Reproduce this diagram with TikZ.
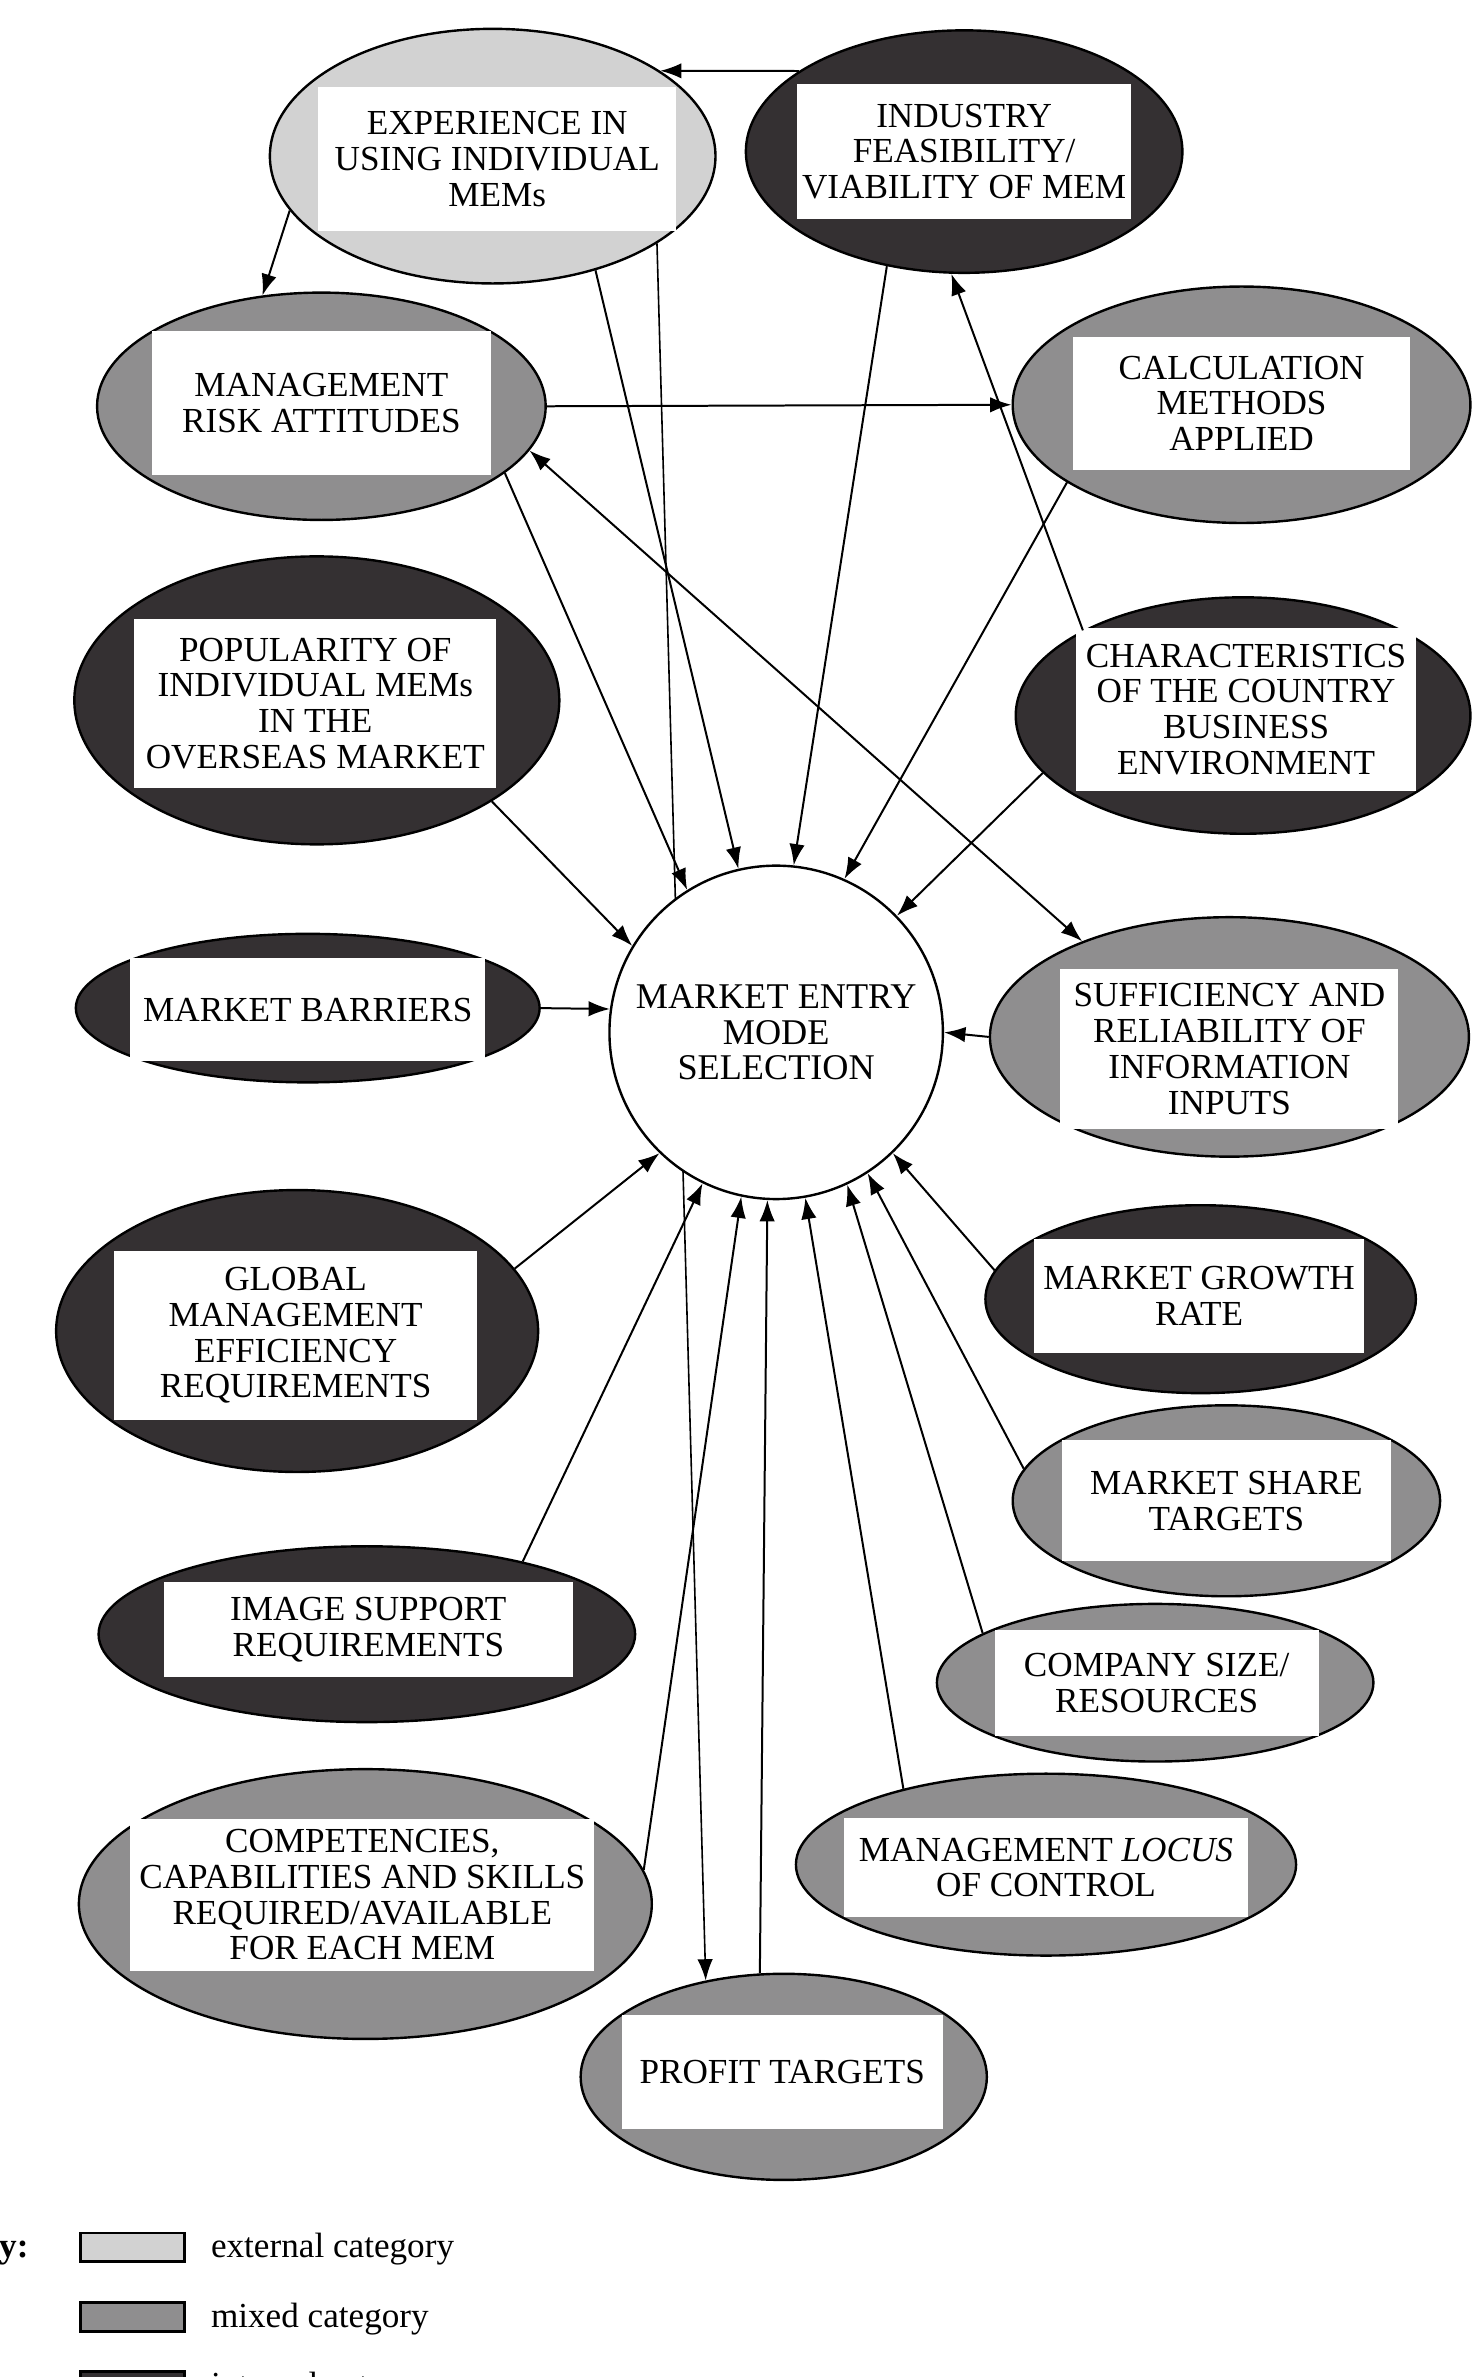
\documentclass[tikz,border=0pt]{standalone}
\usepackage{fontspec}
\setmainfont{Liberation Serif}
\usetikzlibrary{shapes.geometric, arrows.meta}
\definecolor{extgray}{RGB}{210,210,210}
\definecolor{mixgray}{RGB}{143,142,143}
\definecolor{intgray}{RGB}{52,48,50}
\newcommand{\boxfont}{\fontsize{13.2}{13.4}\selectfont}
\begin{document}
\begin{tikzpicture}[
  x=0.02cm, y=-0.02cm,
  oval/.style={ellipse, draw=black, line width=0.9pt, inner sep=0pt},
  ext/.style={oval, fill=extgray},
  mix/.style={oval, fill=mixgray},
  int/.style={oval, fill=intgray},
  lbl/.style={fill=white, inner sep=0pt, align=center, font=\boxfont},
  link/.style={->, line width=0.75pt},
  keybox/.style={draw=black, line width=1.1pt, minimum width=1.38cm, minimum height=0.38cm, inner sep=0pt},
  >={Latex[length=8pt,width=5.8pt]}
]
\useasboundingbox (0,0) rectangle (973,1568);
\clip (0,0) rectangle (973,1568);
\fill[white] (0,0) rectangle (973,1568);

\node[ext, minimum width=5.88cm, minimum height=3.36cm] (exp) at (325,103) {};
\node[lbl, minimum width=4.72cm, minimum height=1.9cm] (exp-t) at (328,105) {EXPERIENCE IN\\USING INDIVIDUAL\\MEMs};
\node[int, minimum width=5.76cm, minimum height=3.2cm] (ind) at (636,100) {};
\node[lbl, minimum width=4.4cm, minimum height=1.78cm] (ind-t) at (636,100) {INDUSTRY\\FEASIBILITY/\\VIABILITY OF MEM};
\node[mix, minimum width=5.92cm, minimum height=3.0cm] (mgmt) at (212,268) {};
\node[lbl, minimum width=4.48cm, minimum height=1.9cm] (mgmt-t) at (212,266) {MANAGEMENT\\RISK ATTITUDES};
\node[mix, minimum width=6.04cm, minimum height=3.12cm] (calc) at (819,267) {};
\node[lbl, minimum width=4.44cm, minimum height=1.76cm] (calc-t) at (819,266) {CALCULATION\\METHODS\\APPLIED};
\node[int, minimum width=6.4cm, minimum height=3.8cm] (pop) at (209,462) {};
\node[lbl, minimum width=4.78cm, minimum height=2.24cm] (pop-t) at (208,464) {POPULARITY OF\\INDIVIDUAL MEMs\\IN THE\\OVERSEAS MARKET};
\node[int, minimum width=6.0cm, minimum height=3.12cm] (char) at (820,472) {};
\node[lbl, minimum width=4.48cm, minimum height=2.14cm] (char-t) at (822,468) {CHARACTERISTICS\\OF THE COUNTRY\\BUSINESS\\ENVIRONMENT};
\node[int, minimum width=6.12cm, minimum height=1.96cm] (barr) at (203,665) {};
\node[lbl, minimum width=4.68cm, minimum height=1.36cm] (barr-t) at (203,666) {MARKET BARRIERS};
\node[mix, minimum width=6.32cm, minimum height=3.16cm] (suff) at (811,684) {};
\node[lbl, minimum width=4.46cm, minimum height=2.1cm] (suff-t) at (811,692) {SUFFICIENCY AND\\RELIABILITY OF\\INFORMATION\\INPUTS};
\node[int, minimum width=6.36cm, minimum height=3.72cm] (glob) at (196,878) {};
\node[lbl, minimum width=4.78cm, minimum height=2.24cm] (glob-t) at (195,881) {GLOBAL\\MANAGEMENT\\EFFICIENCY\\REQUIREMENTS};
\node[int, minimum width=5.68cm, minimum height=2.48cm] (grow) at (792,857) {};
\node[lbl, minimum width=4.36cm, minimum height=1.5cm] (grow-t) at (791,855) {MARKET GROWTH\\RATE};
\node[mix, minimum width=5.64cm, minimum height=2.52cm] (share) at (809,990) {};
\node[lbl, minimum width=4.34cm, minimum height=1.6cm] (share-t) at (809,990) {MARKET SHARE\\TARGETS};
\node[int, minimum width=7.08cm, minimum height=2.32cm] (img) at (242,1078) {};
\node[lbl, minimum width=5.4cm, minimum height=1.26cm] (img-t) at (243,1075) {IMAGE SUPPORT\\REQUIREMENTS};
\node[mix, minimum width=5.76cm, minimum height=2.08cm] (size) at (762,1110) {};
\node[lbl, minimum width=4.28cm, minimum height=1.4cm] (size-t) at (763,1110) {COMPANY SIZE/\\RESOURCES};
\node[mix, minimum width=7.56cm, minimum height=3.56cm] (comp) at (241,1256) {};
\node[lbl, minimum width=6.12cm, minimum height=2.0cm] (comp-t) at (239,1250) {COMPETENCIES,\\CAPABILITIES AND SKILLS\\REQUIRED/AVAILABLE\\FOR EACH MEM};
\node[mix, minimum width=6.6cm, minimum height=2.4cm] (loc) at (690,1230) {};
\node[lbl, minimum width=5.34cm, minimum height=1.3cm] (loc-t) at (690,1232) {MANAGEMENT \textit{LOCUS}\\OF CONTROL};
\node[mix, minimum width=5.36cm, minimum height=2.72cm] (prof) at (517,1370) {};
\node[lbl, minimum width=4.24cm, minimum height=1.5cm] (prof-t) at (516,1367) {PROFIT TARGETS};

\draw[->, line width=0.6pt] (exp.332) -- (prof.129);
\node[circle, draw=black, fill=white, line width=0.9pt, minimum size=4.4cm, inner sep=0pt, align=center, font=\fontsize{13.6}{13.4}\selectfont] (mes) at (512,681) {MARKET ENTRY\\MODE\\SELECTION};

\draw[link] (ind.154) -- (exp.27);
\draw[link] (exp.195) -- (mgmt.118);
\draw[link] (mgmt.east) -- (calc.west);
\draw[link] (calc.204) -- (mes.66);
\draw[link] (exp.312) -- (mes.103);
\draw[link] (ind.236) -- (mes.84);
\draw[link] (char.152) -- (ind.264);
\draw[link] (char.196) -- (mes.44);
\draw[link] (mgmt.340) -- (mes.122);
\draw[link, <->] (mgmt.348) -- (suff.147);
\draw[link] (pop.330) -- (mes.149);
\draw[link] (barr.east) -- (mes.172);
\draw[link] (suff.west) -- (mes.east);
\draw[link] (glob.16) -- (mes.226);
\draw[link] (img.25) -- (mes.244);
\draw[link] (comp.7) -- (mes.258);
\draw[link] (prof.103) -- (mes.267);
\draw[link] (loc.152) -- (mes.280);
\draw[link] (size.164) -- (mes.295);
\draw[link] (share.171) -- (mes.303);
\draw[link] (grow.172) -- (mes.314);

\node[anchor=base east, font=\boxfont\bfseries] (key) at (25,1489) {Key:};
\node[keybox, fill=extgray] (k-ext) at (87.5,1482.5) {};
\node[anchor=base west, font=\boxfont] (k-ext-t) at (133,1489) {external category};
\node[keybox, fill=mixgray] (k-mix) at (87.5,1528.5) {};
\node[anchor=base west, font=\boxfont] (k-mix-t) at (133,1535) {mixed category};
\node[keybox, fill=intgray] (k-int) at (87.5,1574) {};
\node[anchor=base west, font=\boxfont] (k-int-t) at (133,1581) {internal category};
\end{tikzpicture}
\end{document}
